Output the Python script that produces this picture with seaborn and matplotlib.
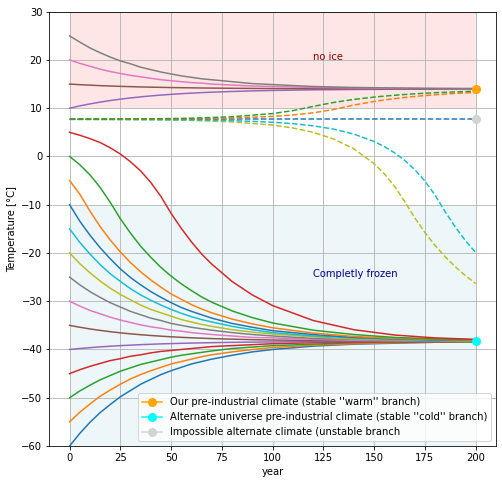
import matplotlib
matplotlib.use("Agg")
import matplotlib.pyplot as plt
import seaborn as sns
import pandas as pd

# ---- time axes (years) ----
years_solid = [0, 5, 10, 15, 20, 25, 30, 35, 40, 45, 50, 55, 60, 65, 70, 80, 90, 100, 120, 140, 160, 180, 200]
years_dash = [0, 20, 40, 60, 80, 100, 110, 120, 130, 140, 150, 155, 160, 165, 170, 175, 180, 185, 190, 195, 200]

# ---- solid trajectories (start temperature in name) ----
T_m60 = [-60.0, -57.4, -55.1, -53.1, -51.4, -49.8, -48.5, -47.2, -46.2, -45.2, -44.4, -43.7, -43.0, -42.5, -42.0, -41.2, -40.5, -40.0, -39.3, -38.9, -38.7, -38.5, -38.4]
T_m55 = [-55.0, -53.0, -51.3, -49.7, -48.4, -47.2, -46.1, -45.2, -44.4, -43.7, -43.0, -42.5, -42.0, -41.5, -41.1, -40.5, -40.0, -39.6, -39.1, -38.8, -38.6, -38.5, -38.4]
T_m50 = [-50.0, -48.6, -47.4, -46.3, -45.4, -44.5, -43.8, -43.1, -42.6, -42.1, -41.6, -41.2, -40.9, -40.6, -40.3, -39.8, -39.5, -39.2, -38.9, -38.6, -38.5, -38.4, -38.4]
T_m45 = [-45.0, -44.2, -43.5, -42.9, -42.3, -41.9, -41.4, -41.1, -40.7, -40.4, -40.2, -40.0, -39.8, -39.6, -39.4, -39.2, -39.0, -38.8, -38.6, -38.5, -38.4, -38.4, -38.3]
T_m40 = [-40.0, -39.80, -39.62, -39.46, -39.32, -39.20, -39.10, -39.00, -38.92, -38.84, -38.78, -38.72, -38.67, -38.63, -38.59, -38.52, -38.47, -38.44, -38.38, -38.35, -38.33, -38.32, -38.31]
T_m35 = [-35.0, -35.39, -35.74, -36.04, -36.31, -36.55, -36.76, -36.94, -37.10, -37.24, -37.37, -37.48, -37.58, -37.66, -37.74, -37.86, -37.96, -38.04, -38.14, -38.20, -38.24, -38.27, -38.28]
T_m30 = [-30.0, -31.0, -31.9, -32.6, -33.3, -33.9, -34.4, -34.9, -35.3, -35.6, -36.0, -36.2, -36.5, -36.7, -36.9, -37.2, -37.5, -37.6, -37.9, -38.1, -38.2, -38.2, -38.3]
T_m25 = [-25.0, -26.6, -28.0, -29.2, -30.3, -31.2, -32.1, -32.8, -33.5, -34.0, -34.6, -35.0, -35.4, -35.7, -36.0, -36.5, -36.9, -37.2, -37.7, -37.9, -38.1, -38.2, -38.2]
T_m20 = [-20.0, -22.2, -24.1, -25.8, -27.3, -28.6, -29.7, -30.8, -31.7, -32.4, -33.1, -33.8, -34.3, -34.8, -35.2, -35.9, -36.4, -36.8, -37.4, -37.8, -38.0, -38.1, -38.2]
T_m15 = [-15.0, -17.8, -20.2, -22.4, -24.3, -25.9, -27.4, -28.7, -29.8, -30.8, -31.7, -32.5, -33.2, -33.8, -34.3, -35.2, -35.9, -36.5, -37.2, -37.6, -37.9, -38.1, -38.2]
T_m10 = [-10.0, -13.4, -16.3, -18.9, -21.2, -23.3, -25.1, -26.6, -28.0, -29.2, -30.3, -31.3, -32.1, -32.8, -33.5, -34.6, -35.4, -36.1, -36.9, -37.5, -37.8, -38.0, -38.1]
T_m5 = [-5.0, -7.8, -11.3, -14.5, -17.3, -19.8, -22.0, -23.9, -25.6, -27.1, -28.5, -29.6, -30.7, -31.6, -32.4, -33.7, -34.7, -35.5, -36.6, -37.3, -37.7, -37.9, -38.1]
T_0 = [0.0, -1.7, -3.8, -6.4, -9.5, -12.9, -15.9, -18.6, -20.9, -23.0, -24.8, -26.4, -27.8, -29.1, -30.2, -32.0, -33.4, -34.5, -36.0, -36.9, -37.5, -37.8, -38.0]
T_5 = [5.0, 4.4, 3.7, 2.9, 1.8, 0.5, -1.1, -3.0, -5.4, -8.3, -11.8, -14.9, -17.7, -20.2, -22.3, -25.9, -28.7, -30.9, -34.0, -35.9, -37.0, -37.6, -37.9]
T_10 = [10.0, 10.48, 10.89, 11.26, 11.59, 11.88, 12.13, 12.35, 12.55, 12.72, 12.87, 13.01, 13.12, 13.23, 13.32, 13.47, 13.59, 13.68, 13.81, 13.88, 13.93, 13.96, 13.97]
T_15 = [15.0, 14.88, 14.78, 14.68, 14.60, 14.53, 14.47, 14.41, 14.36, 14.32, 14.28, 14.25, 14.22, 14.19, 14.17, 14.13, 14.10, 14.08, 14.05, 14.03, 14.02, 14.01, 14.01]
T_20 = [20.0, 19.3, 18.7, 18.1, 17.6, 17.2, 16.8, 16.5, 16.2, 15.9, 15.7, 15.5, 15.3, 15.2, 15.0, 14.8, 14.6, 14.5, 14.3, 14.2, 14.1, 14.1, 14.0]
T_25 = [25.0, 23.7, 22.5, 21.5, 20.6, 19.8, 19.2, 18.5, 18.0, 17.5, 17.1, 16.7, 16.4, 16.1, 15.9, 15.5, 15.1, 14.9, 14.5, 14.3, 14.2, 14.1, 14.1]

# ---- dashed trajectories around the unstable equilibrium ----
dash_m2 = [7.68, 7.65, 7.60, 7.47, 7.17, 6.51, 5.90, 5.00, 3.63, 1.58, -1.51, -3.60, -6.17, -9.32, -12.73, -15.76, -18.44, -20.80, -22.88, -24.72, -26.33]
dash_m1 = [7.69, 7.68, 7.65, 7.58, 7.44, 7.10, 6.80, 6.35, 5.67, 4.64, 3.09, 2.05, 0.77, -0.81, -2.74, -5.10, -8.02, -11.47, -14.66, -17.47, -19.94]
dash_0 = [7.70, 7.70, 7.70, 7.70, 7.70, 7.70, 7.70, 7.70, 7.70, 7.70, 7.70, 7.70, 7.70, 7.70, 7.70, 7.70, 7.70, 7.70, 7.70, 7.70, 7.70]
dash_p1 = [7.71, 7.72, 7.75, 7.82, 7.96, 8.30, 8.60, 9.05, 9.73, 10.65, 11.40, 11.71, 11.98, 12.22, 12.43, 12.62, 12.78, 12.93, 13.06, 13.17, 13.27]
dash_p2 = [7.72, 7.75, 7.80, 7.93, 8.23, 8.89, 9.50, 10.38, 11.19, 11.82, 12.30, 12.51, 12.68, 12.84, 12.98, 13.10, 13.21, 13.30, 13.38, 13.46, 13.52]

# ---- equilibria ----
eq_year = 200
eq_warm = 14.0
eq_cold = -38.3
eq_unstable = 7.7
eq_labels = ["Our pre-industrial climate (stable ''warm'' branch)",
             "Alternate universe pre-industrial climate (stable ''cold'' branch)",
             "Impossible alternate climate (unstable branch"]

solid_series = [T_m60, T_m55, T_m50, T_m45, T_m40, T_m35, T_m30, T_m25, T_m20,
                T_m15, T_m10, T_m5, T_0, T_5, T_10, T_15, T_20, T_25]
dash_series = [dash_m2, dash_m1, dash_0, dash_p1, dash_p2]

W, H, DPI = 502, 484, 72
fig = plt.figure(figsize=(W / DPI, H / DPI), dpi=DPI)
ax = fig.add_axes([49.3 / W, (H - 446) / H, 446.7 / W, 434.3 / H])

palette = plt.rcParams['axes.prop_cycle'].by_key()['color']
k = 0
for s in solid_series:
    df = pd.DataFrame({"year": years_solid, "T": s})
    sns.lineplot(data=df, x="year", y="T", color=palette[k % 10], lw=1.5, ax=ax, zorder=2)
    k += 1
for s in dash_series:
    df = pd.DataFrame({"year": years_dash, "T": s})
    sns.lineplot(data=df, x="year", y="T", color=palette[k % 10], lw=1.5, ls="--", ax=ax, zorder=2)
    k += 1

ax.plot([eq_year], [eq_warm], "o-", color="orange", ms=8, label=eq_labels[0], zorder=4)
ax.plot([eq_year], [eq_cold], "o-", color="cyan", ms=8, label=eq_labels[1], zorder=4)
ax.plot([eq_year], [eq_unstable], "o-", color="lightgray", ms=8, label=eq_labels[2], zorder=4)

ax.fill_between([0, 200], 10, 30, color="#fee6e6", lw=0, zorder=0.1)
ax.fill_between([0, 200], -60, -10, color="#edf6f9", lw=0, zorder=0.1)

ax.text(120, 20, "no ice", color="darkred", fontsize=10)
ax.text(120, -25, "Completly frozen", color="darkblue", fontsize=10)

ax.set_xlim(-10, 210)
ax.set_ylim(-60, 30)
ax.set_xticks([0, 25, 50, 75, 100, 125, 150, 175, 200])
ax.set_yticks([-60, -50, -40, -30, -20, -10, 0, 10, 20, 30])
ax.grid(True, color="#b0b0b0", lw=0.8, zorder=1)
ax.set_axisbelow("line")
ax.set_xlabel("year")
ax.set_ylabel("Temperature [°C]")
ax.legend(loc="lower right", fontsize=10)

fig.savefig("out.png", dpi=DPI)
